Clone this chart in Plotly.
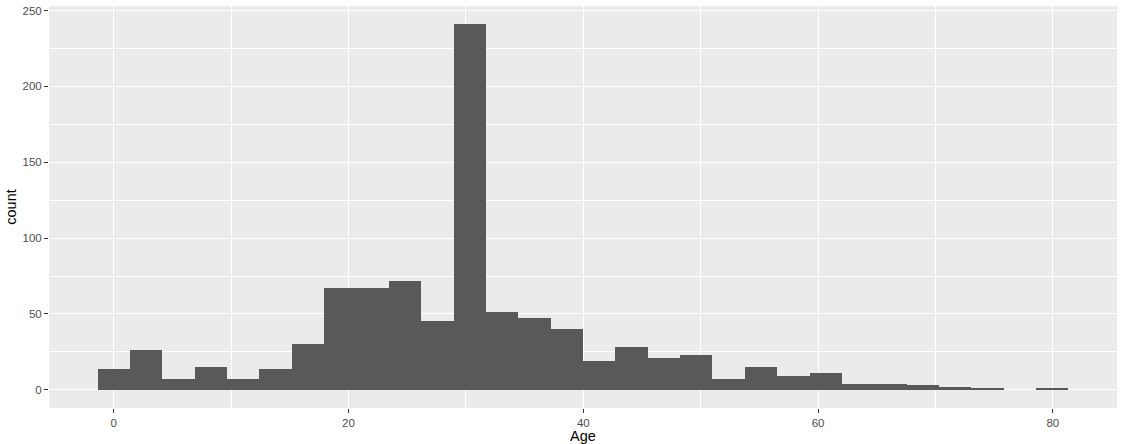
import plotly.graph_objects as go

# Histogram of Age (30 bins), counts
bin_width = 2.757
bin_index = list(range(30))
counts = [14, 26, 7, 15, 7, 14, 30, 67, 67, 72, 45, 241, 51, 47, 40,
          19, 28, 21, 23, 7, 15, 9, 11, 4, 4, 3, 2, 1, 0, 1]
x_ticks = [0, 20, 40, 60, 80]
y_ticks = [0, 50, 100, 150, 200, 250]

centers = [i * bin_width for i in bin_index]

fig = go.Figure()
fig.add_trace(go.Bar(
    x=centers, y=counts, width=[bin_width] * len(counts),
    marker=dict(color="#595959", line=dict(width=0)),
    hoverinfo="x+y",
))

font_family = "Liberation Sans, Arial, Helvetica, sans-serif"
xmin = -bin_width / 2
xmax = xmin + 30 * bin_width
xpad = 0.05 * (xmax - xmin)
ymax = max(counts)
ypad = 0.05 * ymax

fig.update_layout(
    width=1123, height=444,
    margin=dict(l=49, r=6, t=6, b=36, autoexpand=False),
    paper_bgcolor="white",
    plot_bgcolor="#EBEBEB",
    bargap=0,
    showlegend=False,
    font=dict(family=font_family, color="#4D4D4D"),
)
fig.update_xaxes(
    automargin=False,
    range=[xmin - xpad, xmax + xpad],
    tickmode="array", tickvals=x_ticks, ticktext=[str(v) for v in x_ticks],
    showgrid=True, gridcolor="white", gridwidth=1.4,
    minor=dict(dtick=10, tick0=10, showgrid=True, gridcolor="white", gridwidth=0.7, ticks=""),
    zeroline=False, showline=False,
    ticks="outside", ticklen=4, tickwidth=1, tickcolor="#333333",
    tickfont=dict(size=11.5, color="#4D4D4D"),
    title=dict(text="Age", font=dict(size=14.5, color="black"), standoff=2),
)
fig.update_yaxes(
    automargin=False,
    range=[-ypad, ymax + ypad],
    tickmode="array", tickvals=y_ticks, ticktext=[str(v) for v in y_ticks],
    showgrid=True, gridcolor="white", gridwidth=1.4,
    minor=dict(dtick=50, tick0=25, showgrid=True, gridcolor="white", gridwidth=0.7, ticks=""),
    zeroline=False, showline=False,
    ticks="outside", ticklen=4, tickwidth=1, tickcolor="#333333",
    tickfont=dict(size=11.5, color="#4D4D4D"),
    title=dict(text="count", font=dict(size=14.5, color="black"), standoff=2),
)

fig.write_html("out.html", config={"displayModeBar": False},
               post_script="document.body.style.margin='0';")
